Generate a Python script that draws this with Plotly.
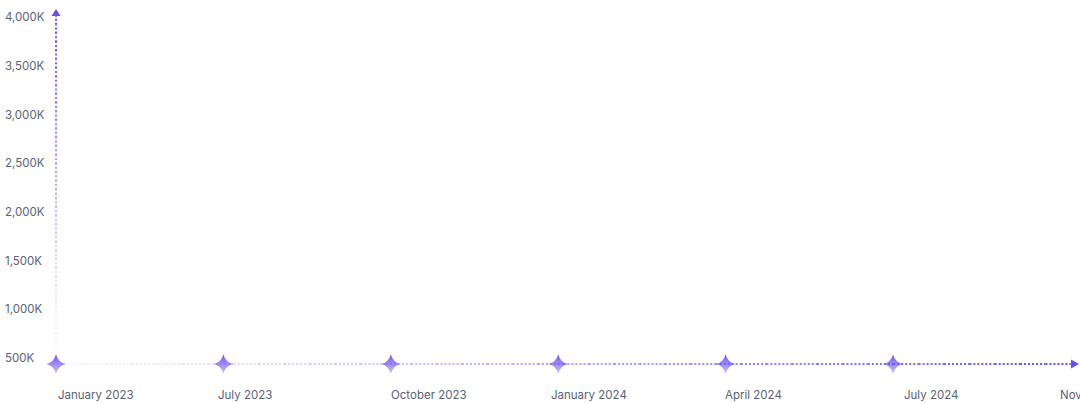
import plotly.graph_objects as go

# ---- data ----
point_x = [0, 1, 2, 3, 4, 5]                      # evenly spaced data points
point_values_k = [500, 500, 500, 500, 500, 500]   # values in thousands

x_tick_labels = ["January 2023", "July 2023", "October 2023", "January 2024",
                 "April 2024", "July 2024", "November 2024"]
x_tick_pos = [0.0, 0.956, 1.989, 2.945, 3.985, 5.054, 5.986]

y_tick_vals = [500, 1000, 1500, 2000, 2500, 3000, 3500, 4000]
y_tick_text = ["500K", "1,000K", "1,500K", "2,000K", "2,500K", "3,000K", "3,500K", "4,000K"]

X_RANGE = [0, 6.111]
Y_RANGE = [500, 4145]

PURPLE = (106, 76, 246)
LABEL_COLOR = "#5b6275"
FONT = "Inter, Lato, sans-serif"

fig = go.Figure()

fig.add_trace(go.Scatter(
    x=point_x, y=point_values_k, mode="markers",
    marker=dict(symbol="star-diamond", size=14, color="#7154f6",
                gradient=dict(type="vertical", color="#cdc2fc"),
                line=dict(width=0)),
    cliponaxis=False, hoverinfo="skip", showlegend=False,
))

shapes = []
N = 40
# x axis gradient dotted line (faint left -> strong right)
x_end = 0.992
for i in range(N):
    a0 = i / N
    a1 = (i + 1) / N
    alpha = 0.04 + 0.96 * ((i + 0.5) / N)
    shapes.append(dict(type="line", xref="paper", yref="paper",
                       x0=a0 * x_end, x1=a1 * x_end, y0=0, y1=0,
                       line=dict(color=f"rgba({PURPLE[0]},{PURPLE[1]},{PURPLE[2]},{alpha:.3f})",
                                 width=2, dash="2px,2px")))
# y axis gradient dotted line (faint bottom -> strong top)
y_end = 0.98
for i in range(N):
    a0 = i / N
    a1 = (i + 1) / N
    alpha = 0.02 + 0.98 * ((i + 0.5) / N) ** 1.2
    shapes.append(dict(type="line", xref="paper", yref="paper",
                       x0=0, x1=0, y0=a0 * y_end, y1=a1 * y_end,
                       line=dict(color=f"rgba({PURPLE[0]},{PURPLE[1]},{PURPLE[2]},{alpha:.3f})",
                                 width=2, dash="2px,2px")))
# arrow heads (pixel-sized paths)
shapes.append(dict(type="path", xref="paper", yref="paper",
                   xsizemode="pixel", ysizemode="pixel", xanchor=0, yanchor=1,
                   path="M -4.5,-7 L 0,0 L 4.5,-7 Z",
                   fillcolor="rgb(106,76,246)", line=dict(width=0)))
shapes.append(dict(type="path", xref="paper", yref="paper",
                   xsizemode="pixel", ysizemode="pixel", xanchor=1, yanchor=0,
                   path="M -8,4.5 L 0,0 L -8,-4.5 Z",
                   fillcolor="rgb(106,76,246)", line=dict(width=0)))

annotations = []
for v, t in zip(y_tick_vals, y_tick_text):
    annotations.append(dict(xref="paper", yref="y", x=0, y=v, text=t,
                            showarrow=False, xanchor="left", yanchor="middle",
                            xshift=-53, yshift=6,
                            font=dict(family=FONT, size=11.5, color=LABEL_COLOR)))
for p, t in zip(x_tick_pos, x_tick_labels):
    annotations.append(dict(xref="x", yref="paper", x=p, y=0, text=t,
                            showarrow=False, xanchor="left", yanchor="middle",
                            yshift=-31,
                            font=dict(family=FONT, size=11.5, color=LABEL_COLOR)))

fig.update_layout(
    width=1080, height=403,
    margin=dict(l=56, r=1, t=9, b=39, autoexpand=False),
    paper_bgcolor="white", plot_bgcolor="white",
    xaxis=dict(range=X_RANGE, showgrid=False, zeroline=False, showline=False,
               showticklabels=False, ticks=""),
    yaxis=dict(range=Y_RANGE, showgrid=False, zeroline=False, showline=False,
               showticklabels=False, ticks=""),
    shapes=shapes, annotations=annotations,
    font=dict(family=FONT),
)

fig.write_html("out.html", config={"displayModeBar": False},
               post_script="document.body.style.margin='0';document.body.style.overflow='hidden';")
